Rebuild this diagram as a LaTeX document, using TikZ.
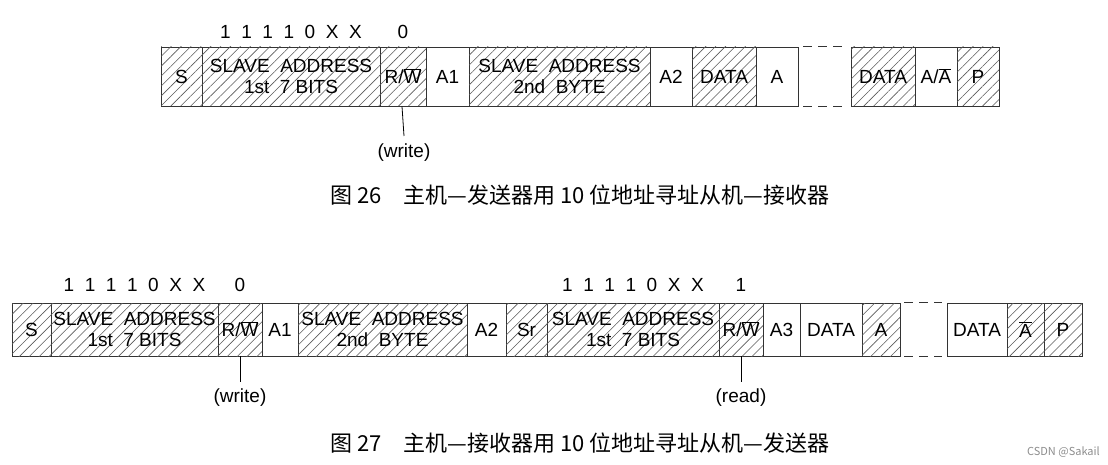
\documentclass[tikz,border=0pt]{standalone}
\usepackage{fontspec}
\setmainfont{Liberation Sans}
\newfontfamily\cjk{Noto Sans CJK SC}
\usetikzlibrary{patterns.meta}
\tikzset{
  x=1pt,y=-1pt,
  box/.style={draw=black!80,line width=0.8pt,inner sep=0pt,align=center,font=\fontsize{19}{21}\selectfont},
  hat/.style={box,postaction={pattern={Lines[angle=45,distance=7pt,line width=0.6pt]},pattern color=black!65}},
  lab/.style={font=\fontsize{19}{21}\selectfont,inner sep=0pt},
  captxt/.style={font=\fontsize{22}{26}\selectfont\cjk,inner sep=0pt},
  dsh/.style={draw=black!80,line width=0.8pt,dash pattern=on 9pt off 6pt}
}
\newcommand\bx[7]{\node[#6,minimum width={#3-#2},minimum height={#5-#4}] (#1) at ({(#2+#3)/2},{(#4+#5)/2}) {#7};}
\newcommand\RW{R/\ensuremath{\overline{\hbox{W}}}}
\begin{document}
\begin{tikzpicture}
\useasboundingbox (0,0) rectangle (1108,465);
% row 1
\def\ya{47}\def\yb{106}
\bx{s1}{161}{202}{\ya}{\yb}{hat}{S}
\bx{sa1}{202}{380}{\ya}{\yb}{hat}{SLAVE\ \ ADDRESS\\1st\ \ 7 BITS}
\bx{rw1}{380}{426}{\ya}{\yb}{hat}{\RW}
\bx{a1}{426}{469}{\ya}{\yb}{box}{A1}
\bx{sb1}{469}{650}{\ya}{\yb}{hat}{SLAVE\ \ ADDRESS\\2nd\ \ BYTE}
\bx{a2}{650}{692}{\ya}{\yb}{box}{A2}
\bx{d1}{692}{756}{\ya}{\yb}{hat}{DATA}
\bx{ak1}{756}{798}{\ya}{\yb}{box}{A}
\bx{d2}{851}{915}{\ya}{\yb}{hat}{DATA}
\bx{aa1}{915}{957}{\ya}{\yb}{box}{A/\ensuremath{\overline{\hbox{A}}}}
\bx{p1}{957}{999}{\ya}{\yb}{hat}{P}
\draw[dsh] (ak1.north east) ++(5,0) -- ([xshift=-5pt]d2.north west);
\draw[dsh] (ak1.south east) ++(5,0) -- ([xshift=-5pt]d2.south west);
\node[lab] (n1) at (sa1.north |- 0,32) {1\ \ 1\ \ 1\ \ 1\ \ 0\ \ X\ \ X};
\node[lab] (z1) at (rw1.north |- 0,32) {0};
\coordinate (w1) at (404,136);
\draw[line width=0.8pt] (rw1.south) ++(-1,0) -- (w1);
\node[lab] (wt1) at (404,153) {(write)};
\node[captxt] (c1) at (580,195) {图 26\quad 主机—发送器用 10 位地址寻址从机—接收器};
% row 2
\def\ya{303}\def\yb{356}
\bx{s2}{12}{51}{\ya}{\yb}{hat}{S}
\bx{sa2}{51}{218}{\ya}{\yb}{hat}{SLAVE\ \ ADDRESS\\1st\ \ 7 BITS}
\bx{rw2}{218}{262}{\ya}{\yb}{hat}{\RW}
\bx{a12}{262}{298}{\ya}{\yb}{box}{A1}
\bx{sb2}{298}{467}{\ya}{\yb}{hat}{SLAVE\ \ ADDRESS\\2nd\ \ BYTE}
\bx{a22}{467}{506}{\ya}{\yb}{box}{A2}
\bx{sr}{506}{547}{\ya}{\yb}{hat}{Sr}
\bx{sa3}{547}{719}{\ya}{\yb}{hat}{SLAVE\ \ ADDRESS\\1st\ \ 7 BITS}
\bx{rw3}{719}{763}{\ya}{\yb}{hat}{\RW}
\bx{a3}{763}{800}{\ya}{\yb}{box}{A3}
\bx{d3}{800}{862}{\ya}{\yb}{box}{DATA}
\bx{ak2}{862}{900}{\ya}{\yb}{hat}{A}
\bx{d4}{947}{1007}{\ya}{\yb}{box}{DATA}
\bx{na}{1007}{1044}{\ya}{\yb}{hat}{\ensuremath{\overline{\hbox{A}}}}
\bx{p2}{1044}{1082}{\ya}{\yb}{hat}{P}
\draw[dsh] (ak2.north east) ++(4,0) -- ([xshift=-5pt]d4.north west);
\draw[dsh] (ak2.south east) ++(4,0) -- ([xshift=-5pt]d4.south west);
\node[lab] (n2) at (sa2.north |- 0,285) {1\ \ 1\ \ 1\ \ 1\ \ 0\ \ X\ \ X};
\node[lab] (z2) at (rw2.north |- 0,285) {0};
\node[lab] (n3) at (sa3.north |- 0,285) {1\ \ 1\ \ 1\ \ 1\ \ 0\ \ X\ \ X};
\node[lab] (z3) at (rw3.north |- 0,285) {1};
\coordinate (w2) at (240,382);
\coordinate (w3) at (741,382);
\draw[line width=0.8pt] (rw2.south) -- (w2);
\draw[line width=0.8pt] (rw3.south) -- (w3);
\node[lab] (wt2) at (240,398) {(write)};
\node[lab] (rt) at (741,398) {(read)};
\node[captxt] (c2) at (580,443) {图 27\quad 主机—接收器用 10 位地址寻址从机—发送器};
\node[font=\fontsize{11}{13}\selectfont\cjk,text=black!45,anchor=east,inner sep=0pt] (wm) at (1100,452) {CSDN @Sakail};
\end{tikzpicture}
\end{document}
